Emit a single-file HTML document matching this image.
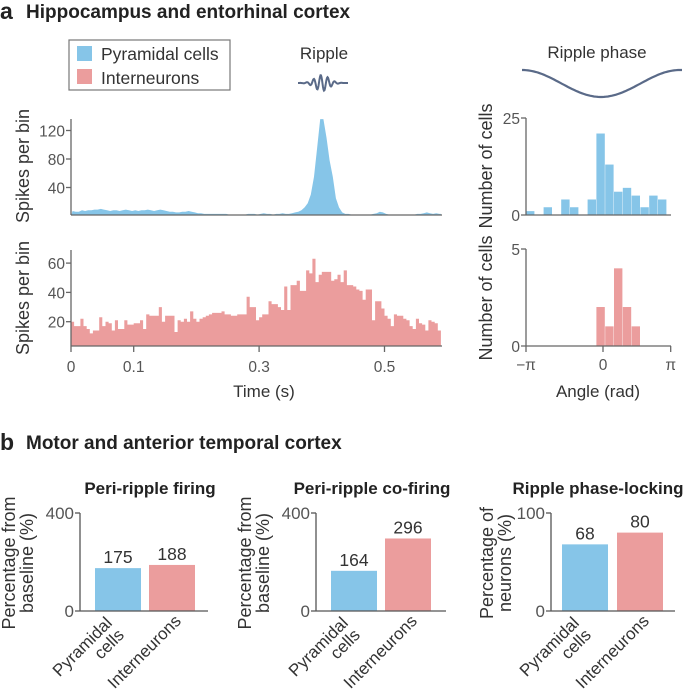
<!DOCTYPE html>
<html><head><meta charset="utf-8">
<style>
html,body{margin:0;padding:0;background:#fff;}
svg{display:block;font-family:"Liberation Sans",sans-serif;}
.tick{font-size:15.5px;fill:#555;}
.lab{font-size:17px;fill:#333;}
.ytitle{font-size:18px;fill:#333;}
</style></head>
<body>
<svg id="fig" width="685" height="694" viewBox="0 0 685 694">
  <text x="0" y="19" font-size="23" font-weight="bold" fill="#222">a</text>
  <text x="26" y="18" font-size="19" font-weight="bold" fill="#222">Hippocampus and entorhinal cortex</text>
  <g>
    <rect x="69" y="40" width="161" height="50" fill="#fff" stroke="#777" stroke-width="1.2"/>
    <rect x="77" y="46" width="15" height="15" fill="#86c5e8"/>
    <text x="101" y="60" font-size="17.5" fill="#333">Pyramidal cells</text>
    <rect x="77" y="69" width="15" height="15" fill="#eb9d9d"/>
    <text x="101" y="84" font-size="17.5" fill="#333">Interneurons</text>
  </g>
  <text x="324" y="59" class="lab" text-anchor="middle">Ripple</text>
  <path id="ripple" fill="none" stroke="#5a6a88" stroke-width="2"/>
  <text x="597" y="58" class="lab" text-anchor="middle">Ripple phase</text>
  <path id="phasewave" fill="none" stroke="#5a6a88" stroke-width="2.2"/>
  <g id="ts"></g>
  <g id="hist"></g>
  <text x="0" y="450" font-size="23" font-weight="bold" fill="#222">b</text>
  <text x="26" y="449" font-size="19" font-weight="bold" fill="#222">Motor and anterior temporal cortex</text>
  <g id="bars"></g>
</svg>
<script>
const NS='http://www.w3.org/2000/svg';
const pyrSpikes=[7,6,6,8,7,8,8,9,9,10,9,8,7,8,8,7,8,9,8,7,
8,7,8,8,9,8,7,8,9,8,7,6,6,5,5,6,6,7,6,5,
4,4,3,3,3,3,3,3,3,3,2,2,2,2,2,2,3,3,3,2,
3,4,3,3,2,3,3,4,3,3,4,5,6,8,12,
18,30,55,95,136,136,110,78,55,25,12,5,
3,3,2,2,2,2,2,2,2,3,4,6,5,3,2,2,2,2,2,2,2,2,2,3,3,4,5,4,3,4,3];
const intSpikes=[20,17,17,22,17,15,12,14,14,23,17,20,19,14,21,15,15,21,18,18,
19,19,21,15,25,24,24,24,30,20,24,24,24,13,21,20,22,20,27,22,
20,22,23,24,25,26,26,26,27,25,25,24,24,25,25,25,37,30,30,21,
23,25,25,34,32,32,30,28,44,28,45,45,48,41,41,55,53,63,47,52,
54,54,54,48,49,52,47,55,45,45,44,42,41,35,42,42,21,34,34,29,
24,22,17,25,24,24,22,21,17,15,22,19,18,14,21,20,19,14];
const binSec=0.005;
const timeTicks=[0,0.1,0.3,0.5];
const pyrTicks=[40,80,120];
const intTicks=[20,40,60];
const pyrPhase=[1,0,2,0,4,2,0,4,21,13,6,7,5,2,5,4];
const intPhase=[0,0,0,0,0,0,0,0,2,1,4,2,1,0,0,0];
const phaseTicks=['−π','0','π'];
const phaseTickVals=[-Math.PI,0,Math.PI];
const barCats=['Pyramidal cells','Interneurons'];
const firingVals=[175,188];
const cofiringVals=[164,296];
const lockingVals=[68,80];

function el(tag,attrs,parent,text){const e=document.createElementNS(NS,tag);for(const k in attrs)e.setAttribute(k,attrs[k]);if(text!==undefined)e.textContent=text;parent.appendChild(e);return e;}

(function(){let d='';for(let i=0;i<=100;i++){const x=298+i*0.5;const u=(x-322)/10;const y=83-8*Math.exp(-u*u)*Math.sin((x-298)*0.9);d+=(i?'L':'M')+x.toFixed(1)+','+y.toFixed(1);}document.getElementById('ripple').setAttribute('d',d);
let p='';for(let i=0;i<=80;i++){const x=522+i*2;const y=83.5-13.5*Math.cos(2*Math.PI*(x-522)/158);p+=(i?'L':'M')+x+','+y.toFixed(1);}document.getElementById('phasewave').setAttribute('d',p);})();

const ts=document.getElementById('ts');
const xT=t=>71+t*627;
const yP=v=>216-v*(28.5/40);
const yI=v=>351-v*(29.3/20);
(function(){
 let d='M'+xT(0)+','+yP(0);
 pyrSpikes.forEach((v,i)=>{d+='L'+xT((i+0.5)*binSec).toFixed(1)+','+yP(v).toFixed(1);});
 d+='L'+xT(pyrSpikes.length*binSec).toFixed(1)+','+yP(pyrSpikes[pyrSpikes.length-1]).toFixed(1)+'L'+xT(pyrSpikes.length*binSec).toFixed(1)+','+yP(0)+'Z';
 const a=el('path',{d:d,fill:'#86c5e8'},ts);
 
 
 let s='M'+xT(0)+','+yI(0);
 intSpikes.forEach((v,i)=>{s+='L'+xT(i*binSec).toFixed(1)+','+yI(v).toFixed(1)+'L'+xT((i+1)*binSec).toFixed(1)+','+yI(v).toFixed(1);});
 s+='L'+xT(intSpikes.length*binSec).toFixed(1)+','+yI(0)+'Z';
 const r=el('path',{d:s,fill:'#eb9d9d'},ts);
 
 
 el('rect',{x:60,y:215,width:390,height:20,fill:'#fff'},ts);
 el('rect',{x:60,y:346,width:390,height:10,fill:'#fff'},ts);
 const ax=el('g',{stroke:'#666','stroke-width':1.3,fill:'none'},ts);
 
 
 el('line',{x1:71,y1:119,x2:71,y2:215},ax);
 el('line',{x1:71,y1:215,x2:442,y2:215},ax);
 el('line',{x1:71,y1:250,x2:71,y2:346},ax);
 el('line',{x1:71,y1:346,x2:442,y2:346},ax);
 pyrTicks.forEach(v=>{el('line',{x1:66,y1:yP(v),x2:71,y2:yP(v)},ax);
  const t=el('text',{x:65,y:yP(v)+6,class:'tick','text-anchor':'end'},ts,String(v));
  
  });
 intTicks.forEach(v=>{el('line',{x1:66,y1:yI(v),x2:71,y2:yI(v)},ax);
  const t=el('text',{x:65,y:yI(v)+6,class:'tick','text-anchor':'end'},ts,String(v));
  
  });
 timeTicks.forEach(v=>{el('line',{x1:xT(v),y1:346,x2:xT(v),y2:352},ax);
  const t=el('text',{x:xT(v),y:372,class:'tick','text-anchor':'middle'},ts,String(v));
  
  });
 const xl=el('text',{x:264,y:397,class:'lab','text-anchor':'middle'},ts,'Time (s)');
 
 
 [[166,'pyramidal-y-axis-title'],[298,'interneuron-y-axis-title']].forEach(([cy,n])=>{
  const t=el('text',{x:0,y:0,class:'ytitle','text-anchor':'middle',transform:'translate(29,'+cy+') rotate(-90)'},ts,'Spikes per bin');
  
  });
})();

const hg=document.getElementById('hist');
(function(){
 const bw=8.8, x0=526;
 const yA=v=>215-v*(97/25);
 const yB=v=>345.7-v*(96.7/5);
 const xAng=a=>a<0?603+a/Math.PI*77:603+a/Math.PI*67.7;
 pyrPhase.forEach((v,i)=>{if(!v)return;
  const b=el('rect',{x:x0+i*bw,y:yA(v),width:bw-0.4,height:215-yA(v),fill:'#86c5e8'},hg);
  
  });
 intPhase.forEach((v,i)=>{if(!v)return;
  const b=el('rect',{x:x0+i*bw,y:yB(v),width:bw-0.4,height:345.7-yB(v),fill:'#eb9d9d'},hg);
  
  });
 const ax=el('g',{stroke:'#666','stroke-width':1.3,fill:'none'},hg);
 
 
 el('line',{x1:526,y1:118,x2:526,y2:215},ax);
 el('line',{x1:521,y1:118,x2:526,y2:118},ax);
 el('line',{x1:521,y1:215,x2:671,y2:215},ax);
 el('line',{x1:526,y1:249,x2:526,y2:346},ax);
 el('line',{x1:521,y1:249,x2:526,y2:249},ax);
 el('line',{x1:521,y1:346,x2:671,y2:346},ax);
 [['25',118],['0',215],['5',249],['0',346]].forEach(([s,y])=>{
  const t=el('text',{x:520,y:y+6,class:'tick','text-anchor':'end'},hg,s);
  
  });
 phaseTickVals.forEach((a,i)=>{el('line',{x1:xAng(a),y1:346,x2:xAng(a),y2:352},ax);
  const t=el('text',{x:xAng(a),y:370,class:'tick','text-anchor':'middle'},hg,phaseTicks[i]);
  
  });
 const xl=el('text',{x:598,y:397,class:'lab','text-anchor':'middle'},hg,'Angle (rad)');
 
 
 [[166,'pyramidal-count-y-axis-title'],[298,'interneuron-count-y-axis-title']].forEach(([cy,n])=>{
  const t=el('text',{x:0,y:0,class:'ytitle','text-anchor':'middle',transform:'translate(492,'+cy+') rotate(-90)'},hg,'Number of cells');
  
  });
})();

const bg=document.getElementById('bars');
function barChart(cfg){
 const g=el('g',{},bg);
 
 
 const y0=611,yTop=513;
 const yS=v=>y0-v/cfg.max*(y0-yTop);
 const tt=el('text',{x:cfg.tx,y:494,'font-size':17,'font-weight':'bold',fill:'#222','text-anchor':'middle'},g,cfg.title);
 
 
 const cols=['#86c5e8','#eb9d9d'];
 cfg.vals.forEach((v,i)=>{
  const bx=cfg.ax+cfg.off+i*cfg.step;
  const r=el('rect',{x:bx,y:yS(v),width:46,height:y0-yS(v),fill:cols[i]},g);
  
  
  const t=el('text',{x:bx+23,y:yS(v)-5,'font-size':17.5,fill:'#333','text-anchor':'middle'},g,String(v));
  
  
 });
 const ax=el('g',{stroke:'#555','stroke-width':1.3,fill:'none'},g);
 el('line',{x1:cfg.ax,y1:yTop,x2:cfg.ax,y2:y0},ax);
 el('line',{x1:cfg.ax-5,y1:yTop,x2:cfg.ax,y2:yTop},ax);
 el('line',{x1:cfg.ax-5,y1:y0,x2:cfg.ax+cfg.len,y2:y0},ax);
 [[String(cfg.max),yTop],['0',y0]].forEach(([s,y])=>{
  const t=el('text',{x:cfg.ax-6,y:y+6,'font-size':17,fill:'#555','text-anchor':'end'},g,s);
  
  });
 const yl=el('text',{x:0,y:0,'font-size':18,fill:'#333','text-anchor':'middle',transform:'translate('+(cfg.ax-cfg.ylo)+',563) rotate(-90)'},g);
 
 
 el('tspan',{x:0,dy:0},yl,cfg.yl[0]);
 el('tspan',{x:0,dy:18},yl,cfg.yl[1]);
 const c1x=cfg.ax+cfg.off+23, c2x=cfg.ax+cfg.off+cfg.step+23;
 const p=el('text',{'font-size':17,fill:'#333','text-anchor':'end',transform:'translate('+(c1x-5)+',624) rotate(-45)'},g);
 
 
 el('tspan',{x:0,dy:0},p,'Pyramidal');
 el('tspan',{x:0,dy:17},p,'cells');
 const q=el('text',{'font-size':17,fill:'#333','text-anchor':'end',transform:'translate('+(c2x+10)+',622) rotate(-45)'},g,barCats[1]);
 
 
}
barChart({name:'peri-ripple-firing-chart',title:'Peri-ripple firing',tx:150,ax:80,off:15,step:54,len:128,max:400,vals:firingVals,yl:['Percentage from','baseline (%)'],ylo:65});
barChart({name:'peri-ripple-cofiring-chart',title:'Peri-ripple co-firing',tx:372,ax:316,off:15,step:54,len:130,max:400,vals:cofiringVals,yl:['Percentage from','baseline (%)'],ylo:65});
barChart({name:'ripple-phase-locking-chart',title:'Ripple phase-locking',tx:598,ax:551,off:11,step:55,len:124,max:100,vals:lockingVals,yl:['Percentage of','neurons (%)'],ylo:58});
</script>
</body></html>
